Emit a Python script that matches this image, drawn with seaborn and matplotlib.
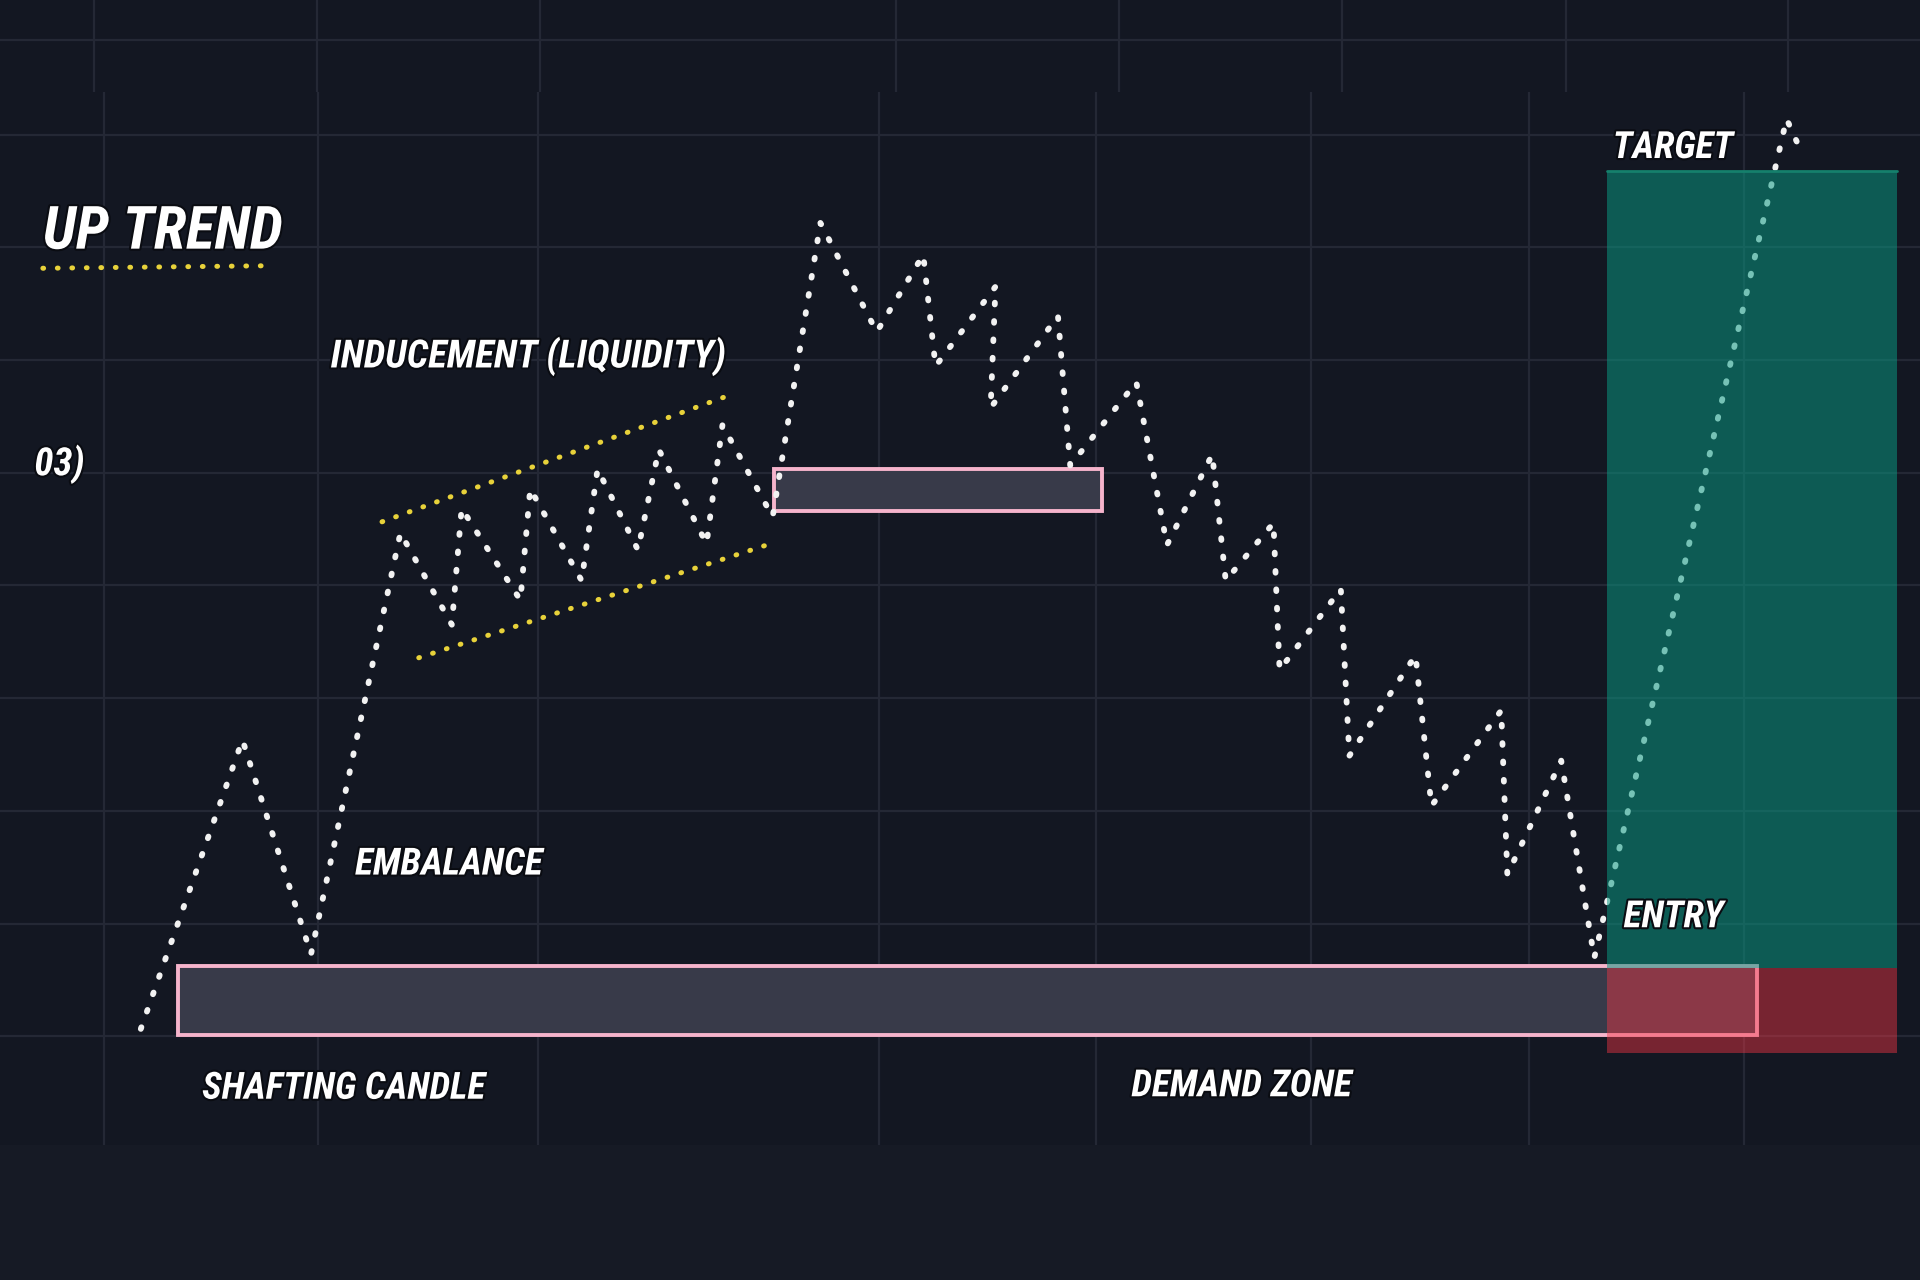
import matplotlib
matplotlib.use("Agg")
import matplotlib.pyplot as plt
import matplotlib.patheffects as pe
from matplotlib import font_manager
from matplotlib.patches import Rectangle
import seaborn as sns

# =========================================================
# DATA (x = bar position, y = price level)
# =========================================================

path_x = [115, 198, 254, 327, 369, 377, 425, 433, 475, 488, 521, 538, 577, 590,
          631, 670, 716, 754, 764, 813, 809, 864, 874, 928, 953, 990, 1001,
          1040, 1045, 1095, 1102, 1156, 1169, 1226, 1231, 1275, 1302, 1459, 1472]
path_y = [95, 331, 156, 500, 425, 520, 445, 536, 461, 552, 486, 568, 491, 588,
          513, 753, 664, 727, 636, 701, 602, 677, 555, 623, 490, 564, 461,
          508, 388, 454, 318, 400, 277, 355, 221, 314, 153, 838, 809]

channel_top_x = [312, 592]
channel_top_y = [509, 611]
channel_low_x = [342, 626]
channel_low_y = [398, 490]
trend_line_x = [35, 215]
trend_line_y = [716, 718]

# zones: (x0, x1, y0, y1)
inducement_box = (632, 900, 518, 552)
demand_box = (145, 1435, 90, 146)
profit_zone = (1312, 1549, 145, 795)
loss_zone = (1312, 1549, 75, 145)

grid_x = [85, 260, 439, 718, 895, 1071, 1249, 1424]
grid_y = [89, 181, 273, 365, 457, 549, 641, 733, 825]
top_grid_x = [77, 259, 441, 732, 914, 1096, 1279, 1460]

labels = [
    ("UP TREND", 35, 732, 43),
    ("INDUCEMENT (LIQUIDITY)", 270, 635, 28),
    ("03)", 28, 547, 28),
    ("EMBALANCE", 290, 221, 27),
    ("SHAFTING CANDLE", 165, 38, 27),
    ("DEMAND ZONE", 924, 40, 27),
    ("TARGET", 1317, 806, 27),
    ("ENTRY", 1326, 178, 27),
]

# =========================================================
# STYLE
# =========================================================

BG = "#131722"
GRID = "#242835"
BOTTOM = "#161a25"
PINK = "#f6b4cc"
BOX_FILL = "#383a49"

sns.set_theme(style="darkgrid", rc={
    "axes.facecolor": BG,
    "figure.facecolor": BOTTOM,
    "grid.color": GRID,
    "grid.linewidth": 1.6,
})

# pick the narrowest installed family for the labels
installed = {f.name for f in font_manager.fontManager.ttflist}
narrow = [f for f in ["Roboto Condensed", "Liberation Sans Narrow", "Roboto", "DejaVu Sans"]
          if f in installed]
plt.rcParams["font.family"] = narrow + ["DejaVu Sans"]

fig = plt.figure(figsize=(19.2, 12.8), dpi=100)

# top strip (second pane)
ax_top = fig.add_axes([0, 1 - 75 / 1045, 1, 75 / 1045])
ax_top.set_xlim(0, 1568)
ax_top.set_ylim(0, 75)
ax_top.set_xticks(top_grid_x)
ax_top.set_yticks([42])
ax_top.tick_params(length=0, labelbottom=False, labelleft=False)
for s in ax_top.spines.values():
    s.set_visible(False)

# main pane
ax = fig.add_axes([0, 110 / 1045, 1, 860 / 1045])
ax.set_xlim(0, 1568)
ax.set_ylim(0, 860)
ax.set_xticks(grid_x)
ax.set_yticks(grid_y)
ax.tick_params(length=0, labelbottom=False, labelleft=False)
for s in ax.spines.values():
    s.set_visible(False)

# boxes
for (x0, x1, y0, y1) in [inducement_box, demand_box]:
    ax.add_patch(Rectangle((x0, y0), x1 - x0, y1 - y0, facecolor=BOX_FILL,
                           edgecolor=PINK, linewidth=2.8, zorder=2))

# price path
sns.lineplot(x=path_x, y=path_y, sort=False, estimator=None, ax=ax,
             color="#f2f2f2", linewidth=4.2, linestyle=(0, (0.3, 2.85)),
             dash_capstyle="round", zorder=3)

# yellow dotted guides
for xs, ys in [(channel_top_x, channel_top_y), (channel_low_x, channel_low_y),
               (trend_line_x, trend_line_y)]:
    sns.lineplot(x=xs, y=ys, sort=False, estimator=None, ax=ax,
                 color="#e8d23a", linewidth=3.6, linestyle=(0, (0.15, 2.75)),
                 dash_capstyle="round", zorder=3)

# long position zones
x0, x1, y0, y1 = profit_zone
ax.add_patch(Rectangle((x0, y0), x1 - x0, y1 - y0, facecolor=(8 / 255, 153 / 255, 129 / 255, 0.53),
                       edgecolor="none", zorder=4))
ax.plot([x0, x1], [y1, y1], color="#15806c", linewidth=2, zorder=4)
x0, x1, y0, y1 = loss_zone
ax.add_patch(Rectangle((x0, y0), x1 - x0, y1 - y0, facecolor=(242 / 255, 54 / 255, 69 / 255, 0.45),
                       edgecolor="none", zorder=4))

# labels
for text, tx, ty, size in labels:
    ax.text(tx, ty, text, fontsize=size, fontweight="bold", fontstyle="italic",
            fontstretch="condensed", color="white", ha="left", va="baseline",
            zorder=6, path_effects=[pe.withStroke(linewidth=3, foreground="#0a0c12")])

ax.set_xlabel("")
ax.set_ylabel("")

plt.savefig("out.png", dpi=100, facecolor=BOTTOM)
